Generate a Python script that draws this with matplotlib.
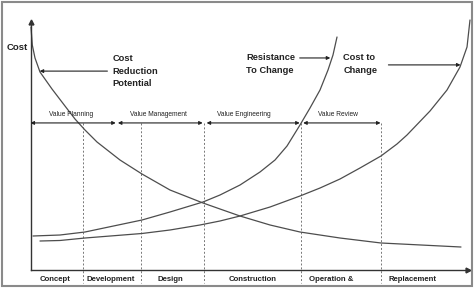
import matplotlib
matplotlib.use('Agg')
import matplotlib.pyplot as plt
from matplotlib.patches import Rectangle

plt.rcParams['font.family'] = ['Liberation Sans', 'DejaVu Sans']

# curves (x: project life 0-100, y: cost 0-100)
reduce_x = [0.11, 0.41, 1.03, 2.17, 4.92, 7.89, 10.18, 12.47, 15.22, 20.48, 25.51,
            31.92, 39.47, 43.36, 47.94, 54.81, 61.67, 70.82, 80.2, 98.51]
reduce_y = [97.98, 90.73, 85.48, 79.84, 72.98, 66.13, 60.89, 56.45, 51.61, 44.35, 38.71,
            32.26, 27.02, 24.6, 21.77, 18.15, 15.32, 12.9, 10.89, 9.27]

resist_x = [0.57, 6.75, 12.47, 25.51, 31.92, 39.47, 43.36, 47.94, 52.52, 55.95, 58.7,
            61.67, 63.96, 66.25, 68.08, 69.22, 70.14]
resist_y = [13.71, 14.11, 15.32, 20.16, 23.39, 27.42, 30.24, 34.27, 39.52, 44.35, 50.0,
            58.47, 65.32, 72.58, 80.65, 86.69, 93.95]

change_x = [2.17, 6.75, 12.47, 25.51, 31.92, 38.79, 43.36, 47.94, 54.81, 61.67, 66.25,
            70.82, 75.4, 80.2, 83.87, 86.16, 91.42, 95.31, 98.28, 99.89, 100.57]
change_y = [11.69, 11.9, 12.9, 14.72, 16.13, 18.15, 19.76, 21.77, 25.4, 29.84, 33.06,
            36.69, 41.13, 45.97, 50.81, 54.44, 64.11, 72.58, 81.85, 89.92, 100.81]

phase_bounds = [12.1, 25.4, 39.6, 61.8, 80.1]
phases = ['Concept', 'Development', 'Design', 'Construction', 'Operation &', 'Replacement']
phase_centers = [5.6, 18.3, 32.0, 50.8, 68.9, 87.4]

value_names = ['Value Planning', 'Value Management', 'Value Engineering', 'Value Review']
value_spans = [(0.0, 19.5), (20.0, 39.4), (40.3, 61.6), (62.4, 80.1)]
value_centers = [9.2, 29.3, 48.7, 70.3]
VALUE_Y = 59.3

LINE_C = '#4d4d4d'
AX_C = '#333333'
TXT_C = '#222222'

fig = plt.figure(figsize=(4.74, 2.88), dpi=100)
fig.patch.set_facecolor('white')
ax = fig.add_axes([30.5 / 474, 18 / 288, 437 / 474, 248 / 288])
ax.set_xlim(0, 100)
ax.set_ylim(0, 100)
ax.spines[['top', 'right']].set_visible(False)
for s in ('left', 'bottom'):
    ax.spines[s].set_color(AX_C)
    ax.spines[s].set_linewidth(1.0)
ax.set_xticks([])
ax.set_yticks([])
ax.patch.set_alpha(0)

# axis arrow heads
ax.plot([0], [100], marker='^', color=AX_C, ms=3.5, clip_on=False)
ax.plot([100], [0], marker='>', color=AX_C, ms=3.5, clip_on=False)

# phase dividers
for b in phase_bounds:
    ax.plot([b, b], [VALUE_Y, -5.2], ls=(0, (2, 2)), color='#777777', lw=0.7, clip_on=False)

# curves
for xs, ys in [(reduce_x, reduce_y), (resist_x, resist_y), (change_x, change_y)]:
    ax.plot(xs, ys, color=LINE_C, lw=0.9, clip_on=False,
            solid_capstyle='round', solid_joinstyle='round')

# value study spans
for name, (a, b), c in zip(value_names, value_spans, value_centers):
    ax.annotate('', xy=(b, VALUE_Y), xytext=(a, VALUE_Y),
                arrowprops=dict(arrowstyle='<|-|>', color=TXT_C, lw=0.8,
                                mutation_scale=5, shrinkA=0, shrinkB=0))
    ax.text(c, VALUE_Y + 3.6, name, ha='center', va='center', fontsize=4.8, color=TXT_C)

# phase labels
for name, c in zip(phases, phase_centers):
    ax.text(c, -3.8, name, ha='center', va='center', fontsize=5.6, fontweight='bold',
            color=TXT_C, clip_on=False)

ax.text(-3.1, 89.6, 'Cost', ha='center', va='center', fontsize=6.8, fontweight='bold', color=TXT_C)

big = dict(fontsize=6.7, fontweight='bold', color=TXT_C, linespacing=1.55, ha='left', va='center')
ax.text(18.8, 80.2, 'Cost\nReduction\nPotential', **big)
ax.text(49.4, 83.1, 'Resistance\nTo Change', **big)
ax.text(71.6, 83.1, 'Cost to\nChange', **big)

arrow = dict(arrowstyle='-|>', color=TXT_C, lw=0.8, mutation_scale=5, shrinkA=0, shrinkB=0)
ax.annotate('', xy=(2.1, 80.2), xytext=(17.6, 80.2), arrowprops=arrow)
ax.annotate('', xy=(68.6, 85.5), xytext=(61.6, 85.5), arrowprops=arrow)
ax.annotate('', xy=(98.4, 82.7), xytext=(81.9, 82.7), arrowprops=arrow)

# picture frame
fig.patches.append(Rectangle((1.5 / 474, 2.5 / 288), 470.5 / 474, 284 / 288,
                             transform=fig.transFigure, fill=False,
                             edgecolor='#8a8a8a', lw=1.5))

fig.savefig('out.png', dpi=100)
